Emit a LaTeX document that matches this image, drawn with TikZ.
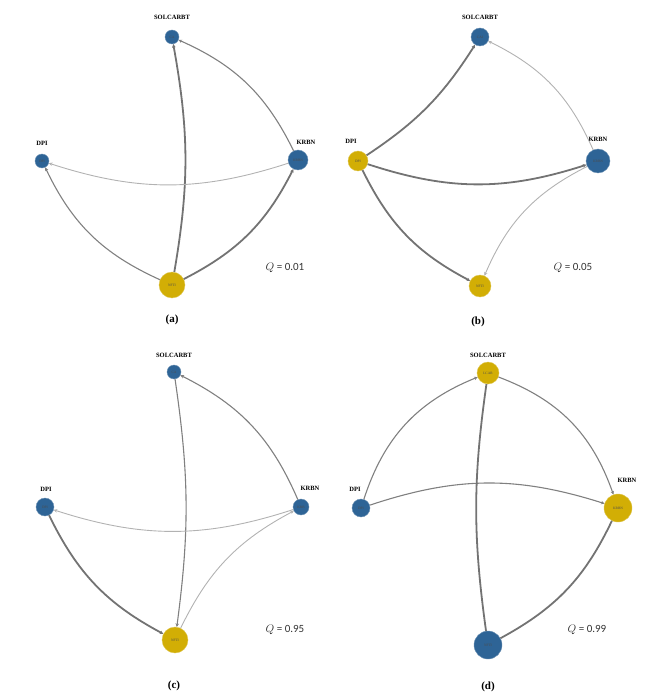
\documentclass[tikz,border=0pt]{standalone}
\usepackage{fontspec}
\setmainfont{Liberation Serif}
\newfontfamily\qfont{Carlito}
\usetikzlibrary{arrows.meta}
\definecolor{nblue}{HTML}{2E6496}
\definecolor{nyel}{HTML}{D2AE05}
\tikzset{
 nb/.style={circle,fill=nblue,draw=nblue!70!white,inner sep=0pt,font=\fontsize{3.5}{4}\selectfont,text=black!70},
 ny/.style={circle,fill=nyel,draw=nyel!70!white,inner sep=0pt,font=\fontsize{3.5}{4}\selectfont,text=black!70},
 lab/.style={font=\bfseries\fontsize{6.5}{7}\selectfont},
 qlab/.style={font=\qfont\fontsize{11}{12}\selectfont,text=black!80},
 captext/.style={font=\bfseries\fontsize{11}{12}\selectfont},
 heavy/.style={draw=black!55,line width=1.8pt,-{Stealth[length=3.5pt,width=3.5pt]}},
 mid/.style={draw=black!50,line width=1.1pt,-{Stealth[length=3.5pt,width=3.5pt]}},
 light/.style={draw=black!30,line width=0.9pt,-{Stealth[length=3.5pt,width=3.5pt]}}
}
\begin{document}
\begin{tikzpicture}[x=1pt,y=-1pt]
\useasboundingbox (0,0) rectangle (663,700);
% (a)
\node[nb,minimum size=14] (aS) at (172,37) {CA};
\node[nb,minimum size=14] (aD) at (42,161) {DPI};
\node[nb,minimum size=20] (aK) at (298,160) {KRBN};
\node[ny,minimum size=26] (aN) at (172,285) {NFTI};
\node[lab] at (172,17) {SOLCARBT};
\node[lab] at (42,143) {DPI};
\node[lab] at (306,142) {KRBN};
\node[qlab] at (285,268) {$Q$ = 0.01};
\node[captext] at (172,320) {(a)};
\draw[heavy] (aN) to[bend right=10] (aS);
\draw[mid] (aK) to[bend right=20] (aS);
\draw[light] (aK) to[bend left=18] (aD);
\draw[mid] (aN) to[bend left=20] (aD);
\draw[heavy] (aN) to[bend right=18] (aK);
% (b)
\node[nb,minimum size=18] (bS) at (480,37) {CAI};
\node[ny,minimum size=20] (bD) at (358,161) {DPI};
\node[nb,minimum size=24] (bK) at (598,161) {KRBN};
\node[ny,minimum size=22] (bN) at (480,286) {NFTI};
\node[lab] at (480,17) {SOLCARBT};
\node[lab] at (351,141) {DPI};
\node[lab] at (598,139) {KRBN};
\node[qlab] at (573,268) {$Q$ = 0.05};
\node[captext] at (478,322) {(b)};
\draw[heavy] (bD) to[bend right=12] (bS);
\draw[light] (bK) to[bend right=20] (bS);
\draw[heavy] (bD) to[bend right=18] (bK);
\draw[heavy] (bD) to[bend right=18] (bN);
\draw[light] (bK) to[bend right=20] (bN);
% (c)
\node[nb,minimum size=14] (cS) at (174,372) {CA};
\node[nb,minimum size=18] (cD) at (45,507) {DPI};
\node[nb,minimum size=16] (cK) at (301,507) {KRB};
\node[ny,minimum size=26] (cN) at (175,640) {NFTI};
\node[lab] at (174,355) {SOLCARBT};
\node[lab] at (46,489) {DPI};
\node[lab] at (310,488) {KRBN};
\node[qlab] at (285,630) {$Q$ = 0.95};
\node[captext] at (174,686) {(c)};
\draw[mid] (cS) to[bend left=8] (cN);
\draw[mid] (cK) to[bend right=20] (cS);
\draw[light] (cK) to[bend left=18] (cD);
\draw[heavy] (cD) to[bend right=18] (cN);
\draw[light] (cN) to[bend left=18] (cK);
% (d)
\node[ny,minimum size=22] (dS) at (488,373) {LCAR};
\node[nb,minimum size=18] (dD) at (361,508) {DPI};
\node[ny,minimum size=28] (dK) at (618,508) {KRBN};
\node[nb,minimum size=28] (dN) at (488,645) {NFTI};
\node[lab] at (488,355) {SOLCARBT};
\node[lab] at (355,489) {DPI};
\node[lab] at (627,480) {KRBN};
\node[qlab] at (587,630) {$Q$ = 0.99};
\node[captext] at (488,687) {(d)};
\draw[mid] (dD) to[bend left=25] (dS);
\draw[mid] (dS) to[bend left=25] (dK);
\draw[mid] (dD) to[bend left=18] (dK);
\draw[heavy,-] (dN) to[bend left=8] (dS);
\draw[heavy,-] (dN) to[bend right=18] (dK);
\end{tikzpicture}
\end{document}
